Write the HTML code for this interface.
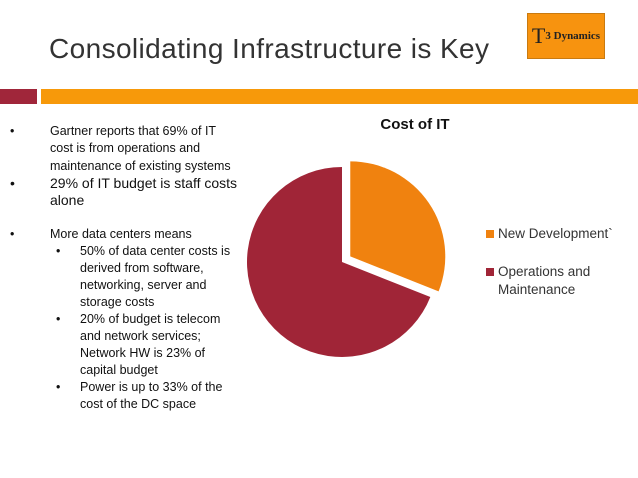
<!DOCTYPE html>
<html><head><meta charset="utf-8"><style>
body{margin:0;width:638px;height:478px;background:#fff;position:relative;overflow:hidden;font-family:"Liberation Sans",sans-serif}
.abs{position:absolute}
.t{font-size:12.5px;color:#111;line-height:17.3px}
.s{line-height:17px}
</style></head><body>
<div class="abs" style="left:49px;top:33px;font-size:28px;letter-spacing:0.4px;color:#333">Consolidating Infrastructure is Key</div>
<div class="abs" style="left:527px;top:13px;width:78px;height:46px;background:#f7930f;border:1px solid #c97a10;box-sizing:border-box;font-family:'Liberation Serif',serif;font-size:11px;font-weight:bold;color:#222;display:flex;align-items:center;justify-content:center"><span style="font-size:22px;font-weight:normal">T</span>3 Dynamics</div>
<div class="abs" style="left:0;top:89px;width:37px;height:15px;background:#a0263a"></div>
<div class="abs" style="left:41px;top:89px;width:597px;height:15px;background:#f7990a"></div>
<div class="abs t" style="left:10px;top:123px;width:230px">
<div style="position:relative;padding-left:40px;padding-right:3px">
<span style="position:absolute;left:0">•</span>Gartner reports that 69% of IT cost is from operations and maintenance of existing systems</div>
<div style="position:relative;padding-left:40px;font-size:14px;line-height:17px">
<span style="position:absolute;left:0">•</span>29% of IT budget is staff costs alone</div>
<div style="position:relative;padding-left:40px;margin-top:17px">
<span style="position:absolute;left:0">•</span>More data centers means</div>
<div class="s" style="position:relative;padding-left:70px"><span style="position:absolute;left:46px">•</span>50% of data center costs is derived from software, networking, server and storage costs</div>
<div class="s" style="position:relative;padding-left:70px"><span style="position:absolute;left:46px">•</span>20% of budget is telecom and network services; Network HW is 23% of capital budget</div>
<div class="s" style="position:relative;padding-left:70px"><span style="position:absolute;left:46px">•</span>Power is up to 33% of the cost of the DC space</div>
</div>
<svg class="abs" style="left:0;top:0" width="638" height="478">
<text x="415" y="129" text-anchor="middle" font-family="Liberation Sans" font-weight="bold" font-size="15" fill="#111">Cost of IT</text>
<g id="slices"></g>
<g font-family="Liberation Sans" font-size="13.5" fill="#333">
<rect x="486" y="230" width="8" height="8" fill="#f0820f"/><text x="498" y="238">New Development`</text>
<rect x="486" y="268" width="8" height="8" fill="#a02537"/><text x="498" y="276">Operations and</text><text x="498" y="294">Maintenance</text>
</g>
</svg>
<script>
const categories=["New Development","Operations and Maintenance"];
const values=[31,69];
const colors=["#f0820f","#a02537"];
const explode=[10,0];
const cx=342,cy=262,r=95;
const g=document.getElementById('slices');
const total=values.reduce((a,b)=>a+b,0);
let a0=0;
values.forEach((v,i)=>{
  const a1=a0+v/total*2*Math.PI, am=(a0+a1)/2;
  const ox=cx+explode[i]*Math.sin(am), oy=cy-explode[i]*Math.cos(am);
  const p=(a)=>[ox+r*Math.sin(a),oy-r*Math.cos(a)];
  const [x0,y0]=p(a0),[x1,y1]=p(a1);
  const path=document.createElementNS('http://www.w3.org/2000/svg','path');
  path.setAttribute('d',`M${ox},${oy}L${x0},${y0}A${r},${r} 0 ${a1-a0>Math.PI?1:0} 1 ${x1},${y1}Z`);
  path.setAttribute('fill',colors[i]);
  
  
  g.appendChild(path);
  a0=a1;
});
</script>
</body></html>
